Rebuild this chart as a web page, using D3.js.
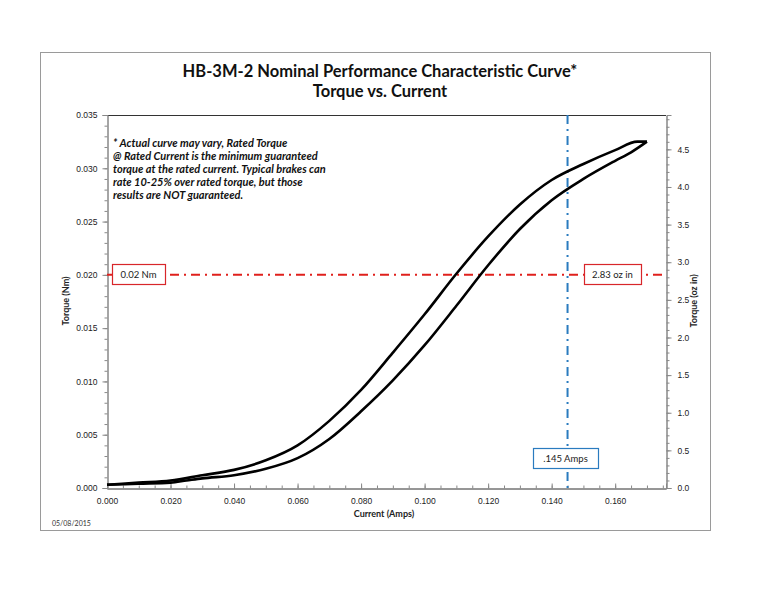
<!DOCTYPE html>
<html>
<head>
<meta charset="utf-8">
<script src="https://cdn.jsdelivr.net/npm/d3@7"></script>
<style>
  body { margin: 0; background: #fff; }
  svg { font-family: Lato, 'Open Sans', sans-serif; }
  .tick-label { font-size: 8.5px; fill: #222; }
  .axis-title { font-size: 9px; font-weight: bold; fill: #222; }
  .title { font-size: 16.5px; font-weight: bold; fill: #111; }
  .note { font-size: 11px; font-weight: bold; font-style: italic; fill: #111; }
  .box-text { font-size: 9.5px; fill: #222; }
</style>
</head>
<body>
<svg width="768" height="594"></svg>
<script>
// lower branch (current rising) and upper branch (current falling)
const risingCurrent = [0, 0.01, 0.02, 0.025, 0.03, 0.04, 0.05, 0.06, 0.07, 0.08, 0.09, 0.10, 0.11, 0.12, 0.13, 0.14, 0.15, 0.16, 0.165, 0.170]
const risingTorque  = [0.0003, 0.0004, 0.0005, 0.0007, 0.0009, 0.0012, 0.0018, 0.0028, 0.0046, 0.0072, 0.0101, 0.0134, 0.0171, 0.0209, 0.0243, 0.0270, 0.0290, 0.0307, 0.0315, 0.0325]
const fallingCurrent = [0, 0.01, 0.02, 0.03, 0.04, 0.05, 0.06, 0.07, 0.08, 0.09, 0.10, 0.11, 0.12, 0.13, 0.14, 0.15, 0.16, 0.167, 0.170]
const fallingTorque  = [0.0003, 0.0005, 0.0007, 0.0012, 0.0017, 0.0026, 0.0040, 0.0063, 0.0092, 0.0127, 0.0163, 0.0201, 0.0236, 0.0266, 0.0289, 0.0304, 0.0317, 0.0325, 0.0325]

const xTicks = [0, 0.02, 0.04, 0.06, 0.08, 0.10, 0.12, 0.14, 0.16]
const yTicks = [0, 0.005, 0.010, 0.015, 0.020, 0.025, 0.030, 0.035]
const ozTicks = [0, 0.5, 1.0, 1.5, 2.0, 2.5, 3.0, 3.5, 4.0, 4.5]

const ratedTorque = 0.02      // Nm
const ratedTorqueOz = 2.83    // oz in
const ratedCurrent = 0.145    // Amps
const NM_TO_OZIN = 141.612

const noteLines = [
  '* Actual curve may vary, Rated Torque',
  '@ Rated Current is the minimum guaranteed',
  'torque at the rated current. Typical brakes can',
  'rate 10-25% over rated torque, but those',
  'results are NOT guaranteed.'
]

const svg = d3.select('svg')

const plot = {left: 107, right: 666, top: 115, bottom: 488}

const xScale = d3.scaleLinear().domain([0, 0.176]).range([plot.left, plot.right])
const yScale = d3.scaleLinear().domain([0, 0.035]).range([plot.bottom, plot.top])
const ozScale = d3.scaleLinear().domain([0, 0.035 * NM_TO_OZIN]).range([plot.bottom, plot.top])

// outer chart border
svg.append('rect')
  .attr('x', 40.5).attr('y', 52.5)
  .attr('width', 670).attr('height', 478)
  .attr('fill', 'none').attr('stroke', '#9a9a9a').attr('stroke-width', 1)

// titles
svg.append('text').attr('class', 'title')
  .attr('x', 380).attr('y', 77).attr('text-anchor', 'middle')
  .text('HB-3M-2 Nominal Performance Characteristic Curve*')
svg.append('text').attr('class', 'title')
  .attr('x', 380).attr('y', 97).attr('text-anchor', 'middle')
  .text('Torque vs. Current')

// plot top border
svg.append('line')
  .attr('x1', plot.left).attr('x2', plot.right)
  .attr('y1', plot.top + 0.5).attr('y2', plot.top + 0.5)
  .attr('stroke', '#333').attr('stroke-width', 1)

// left axis
const leftAxis = svg.append('g')
  .attr('transform', `translate(${plot.left + 0.5},0)`)
leftAxis.call(d3.axisLeft(yScale).ticks(35).tickSize(3).tickFormat(''))
leftAxis.call(g => g.append('g').call(d3.axisLeft(yScale).tickValues(yTicks).tickSize(5)
  .tickFormat(d3.format('.3f'))))
leftAxis.selectAll('path.domain').attr('stroke', '#888')
leftAxis.selectAll('line').attr('stroke', '#888')
leftAxis.selectAll('text').attr('class', 'tick-label').attr('x', -10)

// right axis (oz in)
const rightAxis = svg.append('g')
  .attr('transform', `translate(${plot.right + 0.5},0)`)
rightAxis.call(d3.axisRight(ozScale).ticks(49).tickSize(3).tickFormat(''))
rightAxis.call(g => g.append('g').call(d3.axisRight(ozScale).tickValues(ozTicks).tickSize(5)
  .tickFormat(d3.format('.1f'))))
rightAxis.selectAll('path.domain').attr('stroke', '#888')
rightAxis.selectAll('line').attr('stroke', '#888')
rightAxis.selectAll('text').attr('class', 'tick-label').attr('x', 11)

// bottom axis
const bottomAxis = svg.append('g')
  .attr('transform', `translate(0,${plot.bottom + 0.5})`)
bottomAxis.call(d3.axisTop(xScale).ticks(44).tickSize(3).tickFormat(''))
bottomAxis.call(g => g.append('g').call(d3.axisBottom(xScale).tickValues(xTicks).tickSize(0)
  .tickFormat(d3.format('.3f'))))
bottomAxis.call(g => g.append('g').call(d3.axisTop(xScale).tickValues(xTicks).tickSize(5).tickFormat('')))
bottomAxis.selectAll('path.domain').attr('stroke', '#888')
bottomAxis.selectAll('line').attr('stroke', '#888')
bottomAxis.selectAll('text').attr('class', 'tick-label').attr('y', 9)

// axis titles
svg.append('text').attr('class', 'axis-title')
  .attr('transform', 'translate(69,301) rotate(-90)')
  .attr('text-anchor', 'middle').text('Torque (Nm)')
svg.append('text').attr('class', 'axis-title')
  .attr('transform', 'translate(697,301) rotate(-90)')
  .attr('text-anchor', 'middle').text('Torque (oz in)')
svg.append('text').attr('class', 'axis-title')
  .attr('x', 384).attr('y', 517)
  .attr('text-anchor', 'middle').text('Current (Amps)')

// date stamp
svg.append('text')
  .attr('x', 52).attr('y', 526)
  .style('font-size', '7px').attr('fill', '#333')
  .text('05/08/2015')

// note
svg.append('g').selectAll('text')
  .data(noteLines)
  .enter()
  .append('text')
  .attr('class', 'note')
  .attr('x', 113)
  .attr('y', (d, i) => 147 + i * 13)
  .text(d => d)

// rated current line (blue, dash-dot)
svg.append('line')
  .attr('x1', xScale(ratedCurrent)).attr('x2', xScale(ratedCurrent))
  .attr('y1', plot.top).attr('y2', plot.bottom)
  .attr('stroke', '#2a7bbf').attr('stroke-width', 2)
  .attr('stroke-dasharray', '9,5,2,5')

// rated torque line (red, dash-dot)
svg.append('line')
  .attr('x1', plot.left).attr('x2', plot.right)
  .attr('y1', yScale(ratedTorque)).attr('y2', yScale(ratedTorque))
  .attr('stroke', '#e0201c').attr('stroke-width', 2)
  .attr('stroke-dasharray', '9,5,2,5')

// curves
const line = d3.line()
  .x(d => xScale(d[0]))
  .y(d => yScale(d[1]))
  .curve(d3.curveMonotoneX)

const rising = d3.zip(risingCurrent, risingTorque)
const falling = d3.zip(fallingCurrent, fallingTorque)

svg.append('path').datum(rising)
  .attr('d', line)
  .attr('fill', 'none').attr('stroke', '#000').attr('stroke-width', 2.6)
svg.append('path').datum(falling)
  .attr('d', line)
  .attr('fill', 'none').attr('stroke', '#000').attr('stroke-width', 2.6)

// label boxes
function labelBox(x, y, w, h, txt, color) {
  svg.append('rect')
    .attr('x', x + 0.5).attr('y', y + 0.5)
    .attr('width', w).attr('height', h)
    .attr('fill', '#fff').attr('stroke', color).attr('stroke-width', 1.2)
  svg.append('text').attr('class', 'box-text')
    .attr('x', x + w / 2).attr('y', y + h / 2 + 3.5)
    .attr('text-anchor', 'middle')
    .text(txt)
}

labelBox(112, 264, 53, 20, `${ratedTorque} Nm`, '#d8262a')
labelBox(584, 264, 57, 20, `${ratedTorqueOz} oz in`, '#d8262a')
labelBox(533, 448, 65, 20, '.145 Amps', '#2a7bbf')
</script>
</body>
</html>
